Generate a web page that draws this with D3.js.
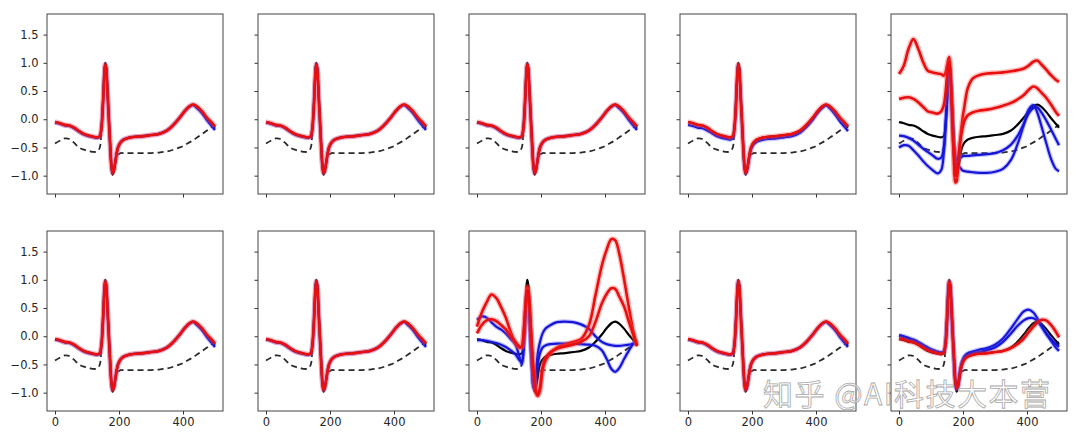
<!doctype html>
<html lang="en">
<head>
  <title>ECG reconstructions</title>
  <script src="https://d3js.org/d3.v7.min.js"></script>
  <style>
    body {
      margin: 0px;
      background: #ffffff;
    }
    text {
      font-family: "DejaVu Sans", sans-serif;
    }
  </style>
</head>
<body>
  <div id="container"></div>

  <script>
    var xTicks = [0, 200, 400];
    var yTicks = [-1.0, -0.5, 0.0, 0.5, 1.0, 1.5];

    // sample positions shared by every curve
    var t = [0, 15, 30, 45, 60, 75, 90, 105, 120, 132,
             140, 145, 150, 154, 157, 160, 164, 168, 172, 176,
             180, 184, 190, 197, 205, 215, 230, 250, 275, 300,
             325, 350, 370, 390, 405, 420, 432, 445, 460, 475,
             490, 500];

    // original beat (black) and shifted baseline (dashed)
    var ecg = [-0.05, -0.07, -0.10, -0.11, -0.15, -0.21, -0.26, -0.29, -0.31, -0.32,
               -0.30, -0.15, 0.30, 0.80, 1.00, 0.92, 0.50, 0.05, -0.40, -0.80,
               -0.98, -0.92, -0.70, -0.50, -0.41, -0.36, -0.33, -0.31, -0.30, -0.28,
               -0.26, -0.20, -0.10, 0.03, 0.14, 0.23, 0.26, 0.22, 0.13, 0.02,
               -0.08, -0.15];
    var dashed = [-0.43, -0.38, -0.34, -0.35, -0.42, -0.50, -0.54, -0.56, -0.58, -0.57,
                  -0.50, -0.15, 0.30, 0.80, 1.00, 0.92, 0.50, 0.05, -0.40, -0.80,
                  -0.98, -0.90, -0.72, -0.63, -0.60, -0.60, -0.60, -0.60, -0.60, -0.60,
                  -0.59, -0.57, -0.54, -0.50, -0.46, -0.41, -0.37, -0.32, -0.26, -0.20,
                  -0.14, -0.10];

    // close reconstructions
    var redNear = [-0.05, -0.07, -0.10, -0.11, -0.15, -0.21, -0.26, -0.29, -0.31, -0.32,
                   -0.30, -0.16, 0.28, 0.78, 0.97, 0.90, 0.48, 0.03, -0.42, -0.80,
                   -0.95, -0.90, -0.70, -0.50, -0.41, -0.36, -0.33, -0.31, -0.30, -0.28,
                   -0.26, -0.20, -0.10, 0.03, 0.14, 0.23, 0.26, 0.22, 0.14, 0.03,
                   -0.06, -0.13];
    var blueNear = [-0.06, -0.08, -0.11, -0.12, -0.16, -0.22, -0.27, -0.30, -0.32, -0.33,
                    -0.31, -0.16, 0.28, 0.78, 0.97, 0.90, 0.48, 0.03, -0.42, -0.80,
                    -0.95, -0.90, -0.70, -0.50, -0.41, -0.36, -0.33, -0.31, -0.30, -0.28,
                    -0.26, -0.20, -0.10, 0.03, 0.14, 0.22, 0.25, 0.19, 0.10, -0.02,
                    -0.12, -0.19];
    var blueP4 = [-0.10, -0.12, -0.15, -0.16, -0.20, -0.25, -0.30, -0.33, -0.35, -0.36,
                  -0.34, -0.18, 0.26, 0.76, 0.96, 0.89, 0.47, 0.02, -0.43, -0.81,
                  -0.96, -0.92, -0.73, -0.54, -0.45, -0.40, -0.37, -0.35, -0.34, -0.32,
                  -0.30, -0.24, -0.14, -0.01, 0.11, 0.20, 0.24, 0.18, 0.08, -0.04,
                  -0.14, -0.21];

    // panel 5 (top right)
    var red5a = [0.80, 0.95, 1.25, 1.42, 1.25, 1.02, 0.86, 0.83, 0.81, 0.80,
                 0.77, 0.82, 0.95, 1.06, 1.10, 0.90, 0.40, -0.20, -0.75, -1.12,
                 -1.10, -0.80, -0.45, -0.05, 0.25, 0.55, 0.72, 0.78, 0.81, 0.82,
                 0.83, 0.85, 0.87, 0.90, 0.95, 1.02, 1.04, 0.97, 0.88, 0.78,
                 0.70, 0.66];
    var red5b = [0.36, 0.38, 0.39, 0.36, 0.30, 0.22, 0.14, 0.12, 0.10, 0.14,
                 0.25, 0.45, 0.75, 0.95, 1.02, 0.85, 0.40, -0.20, -0.70, -1.00,
                 -1.00, -0.80, -0.45, -0.20, -0.02, 0.07, 0.12, 0.15, 0.17, 0.20,
                 0.24, 0.29, 0.35, 0.43, 0.52, 0.58, 0.55, 0.47, 0.38, 0.26,
                 0.13, 0.06];
    var blue5a = [-0.50, -0.46, -0.47, -0.55, -0.64, -0.74, -0.83, -0.90, -0.96, -0.90,
                  -0.60, -0.20, 0.30, 0.75, 0.90, 0.80, 0.40, -0.10, -0.50, -0.75,
                  -0.82, -0.84, -0.85, -0.90, -0.92, -0.93, -0.94, -0.95, -0.95, -0.93,
                  -0.88, -0.72, -0.45, -0.10, 0.17, 0.25, 0.12, -0.12, -0.42, -0.70,
                  -0.88, -0.92];
    var blue5b = [-0.29, -0.30, -0.33, -0.38, -0.45, -0.52, -0.58, -0.64, -0.70, -0.68,
                  -0.50, -0.10, 0.40, 0.80, 0.95, 0.85, 0.40, -0.10, -0.45, -0.65,
                  -0.72, -0.72, -0.70, -0.66, -0.65, -0.65, -0.64, -0.63, -0.62, -0.60,
                  -0.55, -0.45, -0.30, -0.08, 0.10, 0.20, 0.21, 0.12, -0.02, -0.18,
                  -0.35, -0.46];

    // panel 8 (bottom middle)
    var red8a = [0.17, 0.42, 0.60, 0.74, 0.68, 0.52, 0.33, 0.08, -0.12, -0.20,
                 -0.20, 0.00, 0.40, 0.75, 0.88, 0.85, 0.60, 0.20, -0.20, -0.55,
                 -0.80, -0.95, -1.05, -0.95, -0.60, -0.42, -0.30, -0.20, -0.15, -0.10,
                 -0.05, 0.20, 0.72, 1.25, 1.53, 1.72, 1.70, 1.45, 1.00, 0.50,
                 0.05, -0.16];
    var red8b = [0.05, 0.20, 0.28, 0.30, 0.27, 0.20, 0.12, 0.00, -0.10, -0.18,
                 -0.18, 0.00, 0.40, 0.70, 0.82, 0.80, 0.55, 0.15, -0.25, -0.60,
                 -0.85, -1.00, -1.05, -0.90, -0.55, -0.38, -0.28, -0.22, -0.18, -0.15,
                 -0.10, 0.00, 0.25, 0.58, 0.75, 0.85, 0.84, 0.70, 0.52, 0.25,
                 0.00, -0.18];
    var blue8a = [0.29, 0.35, 0.33, 0.25, 0.17, 0.12, 0.05, -0.05, -0.15, -0.35,
                  -0.50, -0.30, 0.20, 0.60, 0.80, 0.75, 0.30, -0.20, -0.60, -0.90,
                  -0.95, -0.70, -0.30, -0.10, 0.05, 0.14, 0.20, 0.25, 0.26, 0.25,
                  0.21, 0.13, 0.00, -0.10, -0.14, -0.16, -0.17, -0.17, -0.16, -0.15,
                  -0.13, -0.12];
    var blue8b = [-0.07, -0.07, -0.08, -0.10, -0.12, -0.15, -0.19, -0.25, -0.32, -0.42,
                  -0.45, -0.25, 0.20, 0.60, 0.75, 0.70, 0.30, -0.20, -0.60, -0.88,
                  -0.93, -0.80, -0.50, -0.30, -0.20, -0.16, -0.14, -0.13, -0.13, -0.13,
                  -0.14, -0.15, -0.17, -0.25, -0.40, -0.58, -0.63, -0.56, -0.40, -0.25,
                  -0.12, -0.07];

    // panel 10 (bottom right)
    var blue10a = [0.02, 0.00, -0.03, -0.06, -0.10, -0.15, -0.20, -0.24, -0.27, -0.28,
                   -0.27, -0.15, 0.28, 0.78, 0.97, 0.90, 0.48, 0.03, -0.42, -0.80,
                   -0.93, -0.88, -0.65, -0.45, -0.35, -0.30, -0.27, -0.24, -0.21, -0.15,
                   -0.04, 0.14, 0.30, 0.44, 0.47, 0.42, 0.32, 0.18, 0.04, -0.08,
                   -0.20, -0.26];
    var blue10b = [0.00, -0.02, -0.05, -0.08, -0.12, -0.17, -0.22, -0.26, -0.29, -0.30,
                   -0.28, -0.15, 0.28, 0.78, 0.97, 0.90, 0.48, 0.03, -0.42, -0.80,
                   -0.93, -0.88, -0.65, -0.46, -0.37, -0.32, -0.30, -0.28, -0.25, -0.20,
                   -0.10, 0.05, 0.18, 0.28, 0.32, 0.32, 0.27, 0.18, 0.06, -0.05,
                   -0.14, -0.19];
    var red10 = [-0.04, -0.06, -0.09, -0.11, -0.15, -0.20, -0.25, -0.28, -0.30, -0.31,
                 -0.29, -0.15, 0.28, 0.78, 0.97, 0.90, 0.48, 0.03, -0.42, -0.80,
                 -0.92, -0.88, -0.68, -0.50, -0.41, -0.36, -0.33, -0.31, -0.30, -0.28,
                 -0.26, -0.21, -0.14, -0.04, 0.07, 0.17, 0.24, 0.29, 0.28, 0.20,
                 0.08, -0.02];

    var panels = [
      { blue: [blueNear], red: [redNear] },
      { blue: [blueNear], red: [redNear] },
      { blue: [blueNear], red: [redNear] },
      { blue: [blueP4], red: [redNear] },
      { blue: [blue5a, blue5b], red: [red5a, red5b] },
      { blue: [blueNear], red: [redNear] },
      { blue: [blueNear], red: [redNear] },
      { blue: [blue8a, blue8b], red: [red8a, red8b] },
      { blue: [blueNear], red: [redNear] },
      { blue: [blue10a, blue10b], red: [red10] }
    ];

    var W = 1080, H = 440;
    var pw = 176, ph = 180;
    var lefts = [47, 258, 469, 680, 891];
    var tops = [14, 231];

    var svg = d3.select('div#container').append('svg')
        .attr('width', W)
        .attr('height', H)
        .style('display', 'block');

    var x = d3.scaleLinear().domain([-25, 525]).range([0, pw]);
    var y = d3.scaleLinear().domain([-1.325, 1.865]).range([ph, 0]);

    var line = d3.line()
        .x(function (d, i) { return x(t[i]); })
        .y(function (d) { return y(d); })
        .curve(d3.curveCatmullRom.alpha(0.5));

    panels.forEach(function (p, k) {
        var row = Math.floor(k / 5), col = k % 5;
        var g = svg.append('g')
            .attr('transform', 'translate(' + lefts[col] + ',' + tops[row] + ')');

        g.append('rect')
            .attr('width', pw)
            .attr('height', ph)
            .attr('fill', '#ffffff');

        g.append('path')
            .attr('d', line(dashed))
            .attr('fill', 'none')
            .attr('stroke', '#2a2a2a')
            .attr('stroke-width', 1.8)
            .attr('stroke-dasharray', '6,4');

        g.append('path')
            .attr('d', line(ecg))
            .attr('fill', 'none')
            .attr('stroke', '#000000')
            .attr('stroke-width', 2.2);

        p.blue.forEach(function (s) {
            g.append('path')
                .attr('d', line(s))
                .attr('fill', 'none')
                .attr('stroke', '#3a3aff')
                .attr('stroke-opacity', 0.3)
                .attr('stroke-width', 4.5);
            g.append('path')
                .attr('d', line(s))
                .attr('fill', 'none')
                .attr('stroke', '#1515d8')
                .attr('stroke-width', 2.2);
        });

        p.red.forEach(function (s) {
            g.append('path')
                .attr('d', line(s))
                .attr('fill', 'none')
                .attr('stroke', '#ff4a4a')
                .attr('stroke-opacity', 0.35)
                .attr('stroke-width', 5.5);
            g.append('path')
                .attr('d', line(s))
                .attr('fill', 'none')
                .attr('stroke', '#ea0f0f')
                .attr('stroke-width', 2.6);
        });

        // axes
        var ax = g.append('g')
            .attr('transform', 'translate(0,' + ph + ')')
            .call(d3.axisBottom(x).tickValues(xTicks).tickSize(3.5).tickPadding(3)
                .tickFormat(row === 1 ? d3.format('d') : ''));
        var ay = g.append('g')
            .call(d3.axisLeft(y).tickValues(yTicks).tickSize(3.5).tickPadding(5)
                .tickFormat(col === 0 ? function (d) { return d.toFixed(1).replace('-', '\u2212'); } : ''));

        [ax, ay].forEach(function (a) {
            a.select('.domain').remove();
            a.selectAll('.tick line').attr('stroke', '#333333');
            a.selectAll('text')
                .attr('fill', '#262626')
                .style('font-size', '11.5px')
                .style('font-family', '"DejaVu Sans", sans-serif');
        });

        g.append('rect')
            .attr('width', pw)
            .attr('height', ph)
            .attr('fill', 'none')
            .attr('stroke', '#444444')
            .attr('stroke-width', 1);
    });

    // watermark
    svg.append('text')
        .attr('x', 763)
        .attr('y', 405)
        .attr('textLength', 287)
        .attr('lengthAdjust', 'spacing')
        .style('font-family', '"Noto Sans CJK SC", sans-serif')
        .style('font-size', '30px')
        .attr('fill', 'rgba(255,255,255,0.55)')
        .attr('stroke', '#a8a8a8')
        .attr('stroke-width', 0.8)
        .text('知乎 @AI科技大本营');
  </script>
</body>
</html>
